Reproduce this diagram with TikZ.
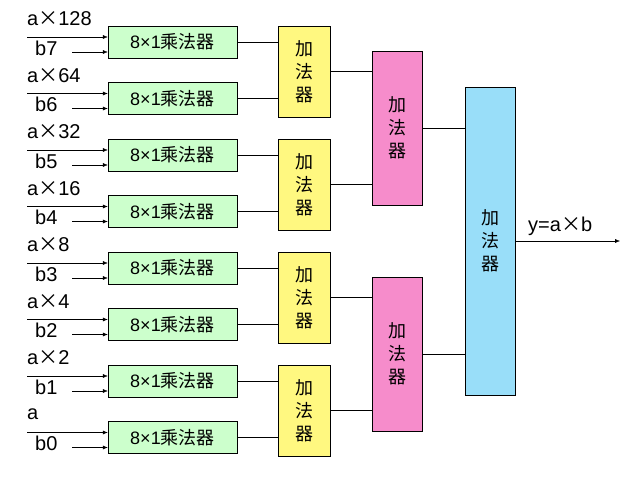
\documentclass[tikz,border=0pt]{standalone}
\usepackage{fontspec}
\usetikzlibrary{arrows.meta}
\setmainfont{Liberation Sans}
\newfontfamily\cjk{Noto Sans CJK SC}
\newcommand{\tms}{{\cjk ×}}
\begin{document}
\begin{tikzpicture}[x=1pt,y=-1pt,
  mul/.style={draw,fill=green!20!white,minimum width=129pt,minimum height=32pt,inner sep=0,font=\fontsize{18}{18}\selectfont},
  addbox/.style={draw,inner sep=0,align=center,font=\cjk\fontsize{18}{23}\selectfont},
  lbl/.style={font=\fontsize{20}{20}\selectfont,inner sep=0,anchor=west},
  >={Latex[length=5pt,width=4pt]}]
\useasboundingbox (0,0) rectangle (641,498);
\foreach \i/\a/\b in {0/a\tms128/b7,1/a\tms64/b6,2/a\tms32/b5,3/a\tms16/b4,4/a\tms8/b3,5/a\tms4/b2,6/a\tms2/b1,7/a/b0}{
  \pgfmathsetmacro\t{26+56.5*\i}
  \node[mul] (m\i) at (172.5,\t+16) {8×1{\cjk 乘法器}};
  \node[lbl] (la\i) at (27,\t-7) {\a};
  \node[lbl] (lb\i) at (35,\t+22) {\b};
  \coordinate (sa\i) at (27,\t+11);
  \coordinate (sb\i) at (72,\t+26);
  \draw[->] (sa\i) -- (sa\i-|m\i.west);
  \draw[->] (sb\i) -- (sb\i-|m\i.west);
}
\foreach \j in {0,1,2,3}{
  \pgfmathtruncatemacro\p{2*\j}\pgfmathtruncatemacro\q{2*\j+1}
  \pgfmathsetmacro\t{26+113*\j}
  \node[addbox,fill=yellow!50!white,minimum width=52pt,minimum height=91pt] (y\j) at (304,\t+45.5) {加\\法\\器};
  \draw (m\p.east) -- (m\p.east-|y\j.west);
  \draw (m\q.east) -- (m\q.east-|y\j.west);
}
\node[addbox,fill=magenta!45!white,minimum width=50pt,minimum height=154pt] (p0) at (397,128) {加\\法\\器};
\node[addbox,fill=magenta!45!white,minimum width=50pt,minimum height=154pt] (p1) at (397,354) {加\\法\\器};
\draw (y0.east) -- (y0.east-|p0.west);
\draw (y1.east) -- (y1.east-|p0.west);
\draw (y2.east) -- (y2.east-|p1.west);
\draw (y3.east) -- (y3.east-|p1.west);
\node[addbox,fill=cyan!40!white,minimum width=50pt,minimum height=308pt] (b) at (490,241) {加\\法\\器};
\draw (p0.east) -- (p0.east-|b.west);
\draw (p1.east) -- (p1.east-|b.west);
\coordinate (out) at (620,241);
\draw[->] (b.east) -- (out);
\node[lbl] (yl) at (528,226) {y=a\tms b};
\end{tikzpicture}
\end{document}
